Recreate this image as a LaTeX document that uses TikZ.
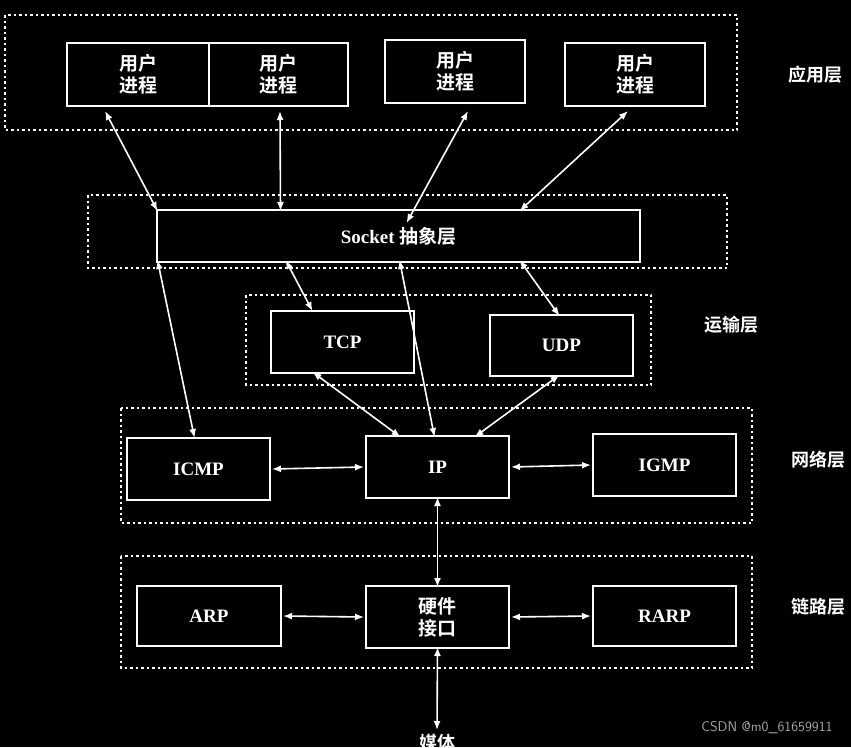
\documentclass[tikz,border=0pt]{standalone}
\usepackage{fontspec}
\setmainfont{Liberation Serif}
\newfontfamily\cjk{Noto Sans CJK SC}[BoldFont={Noto Sans CJK SC Bold}]
\usetikzlibrary{arrows.meta}
\begin{document}
\begin{tikzpicture}[x=1pt,y=-1pt,
  box/.style={draw=white,line width=2pt,text=white,inner sep=0pt,font=\fontsize{19}{22}\selectfont\bfseries\cjk,align=center},
  frame/.style={draw=white,line width=2.5pt,dash pattern=on 2.5pt off 3pt},
  lab/.style={text=white,font=\fontsize{18}{20}\selectfont\bfseries\cjk},
  arr/.style={draw=white,line width=1.6pt,{Latex[length=9pt,width=7pt]}-{Latex[length=9pt,width=7pt]}}]
\fill[black] (0,0) rectangle (851,747);
\useasboundingbox (0,0) rectangle (851,747);
% frames
\draw[frame] (5,15) rectangle (737,130);
\draw[frame] (88,195) rectangle (727,268);
\draw[frame] (246,295) rectangle (651,385);
\draw[frame] (121,408) rectangle (752,523);
\draw[frame] (121,556) rectangle (752,668);
% boxes
\node[box,minimum width=142pt,minimum height=63pt] (u1) at (138,74.5) {用户\\进程};
\node[box,minimum width=139pt,minimum height=63pt] (u2) at (278.5,74.5) {用户\\进程};
\node[box,minimum width=140pt,minimum height=63pt] (u3) at (455,71.5) {用户\\进程};
\node[box,minimum width=140pt,minimum height=63pt] (u4) at (635,74.5) {用户\\进程};
\node[box,minimum width=483pt,minimum height=52pt] (sock) at (398.5,236) {{\rmfamily Socket} 抽象层};
\node[box,minimum width=143pt,minimum height=62pt,font=\fontsize{19}{22}\selectfont\bfseries\rmfamily] (tcp) at (342.5,342) {TCP};
\node[box,minimum width=143pt,minimum height=61pt,font=\fontsize{19}{22}\selectfont\bfseries\rmfamily] (udp) at (561.5,345.5) {UDP};
\node[box,minimum width=143pt,minimum height=62pt,font=\fontsize{19}{22}\selectfont\bfseries\rmfamily] (icmp) at (198.5,469) {ICMP};
\node[box,minimum width=143pt,minimum height=62pt,font=\fontsize{19}{22}\selectfont\bfseries\rmfamily] (ip) at (437.5,467) {IP};
\node[box,minimum width=143pt,minimum height=62pt,font=\fontsize{19}{22}\selectfont\bfseries\rmfamily] (igmp) at (664.5,465) {IGMP};
\node[box,minimum width=144pt,minimum height=60pt,font=\fontsize{19}{22}\selectfont\bfseries\rmfamily] (arp) at (209,616) {ARP};
\node[box,minimum width=143pt,minimum height=62pt] (hw) at (437.5,617) {硬件\\接口};
\node[box,minimum width=143pt,minimum height=60pt,font=\fontsize{19}{22}\selectfont\bfseries\rmfamily] (rarp) at (664.5,616) {RARP};
\node[lab,anchor=north] (media) at (437,731) {媒体};
% labels
\node[lab] (l1) at (815,75) {应用层};
\node[lab] (l2) at (731,325) {运输层};
\node[lab] (l3) at (818,460) {网络层};
\node[lab] (l4) at (818,607) {链路层};
\node[text=gray!70,font=\fontsize{14}{16}\selectfont\sffamily,anchor=east] (wm) at (836,728) {CSDN @m0\_61659911};
% arrows
\draw[arr] ([xshift=-33pt,yshift=-4pt]u1.south) -- ([xshift=-241pt,yshift=-2pt]sock.north);
\draw[arr] ([xshift=1.5pt,yshift=-4pt]u2.south) -- ([xshift=-118pt,yshift=-2pt]sock.north);
\draw[arr] ([xshift=13pt,yshift=-7pt]u3.south) -- ([xshift=8pt,yshift=-14pt]sock.north);
\draw[arr] ([xshift=-7pt,yshift=-4pt]u4.south) -- ([xshift=121pt,yshift=-2pt]sock.north);
\draw[arr] ([xshift=-241pt,yshift=3pt]sock.south) -- ([xshift=-4pt,yshift=-1pt]icmp.north);
\draw[arr] ([xshift=-113pt,yshift=3pt]sock.south) -- ([xshift=-30pt,yshift=-1pt]tcp.north);
\draw[arr] ([xshift=1pt,yshift=3pt]sock.south) -- ([xshift=-3pt,yshift=-2pt]ip.north);
\draw[arr] ([xshift=121pt,yshift=3pt]sock.south) -- ([xshift=-2pt,yshift=-2pt]udp.north);
\draw[arr] ([xshift=-30pt,yshift=2pt]tcp.south) -- ([xshift=-37pt,yshift=-2pt]ip.north);
\draw[arr] ([xshift=-2pt,yshift=2pt]udp.south) -- ([xshift=37pt,yshift=-2pt]ip.north);
\draw[arr] ([xshift=1pt]icmp.east) -- ([xshift=-1pt]ip.west);
\draw[arr] ([xshift=1pt]ip.east) -- ([xshift=-1pt]igmp.west);
\draw[arr] ([yshift=2pt]ip.south) -- ([yshift=-2pt]hw.north);
\draw[arr] ([xshift=1pt]arp.east) -- ([xshift=-1pt]hw.west);
\draw[arr] ([xshift=1pt]hw.east) -- ([xshift=-1pt]rarp.west);
\draw[arr] ([yshift=2pt]hw.south) -- ([yshift=1pt]media.north);
\end{tikzpicture}
\end{document}
